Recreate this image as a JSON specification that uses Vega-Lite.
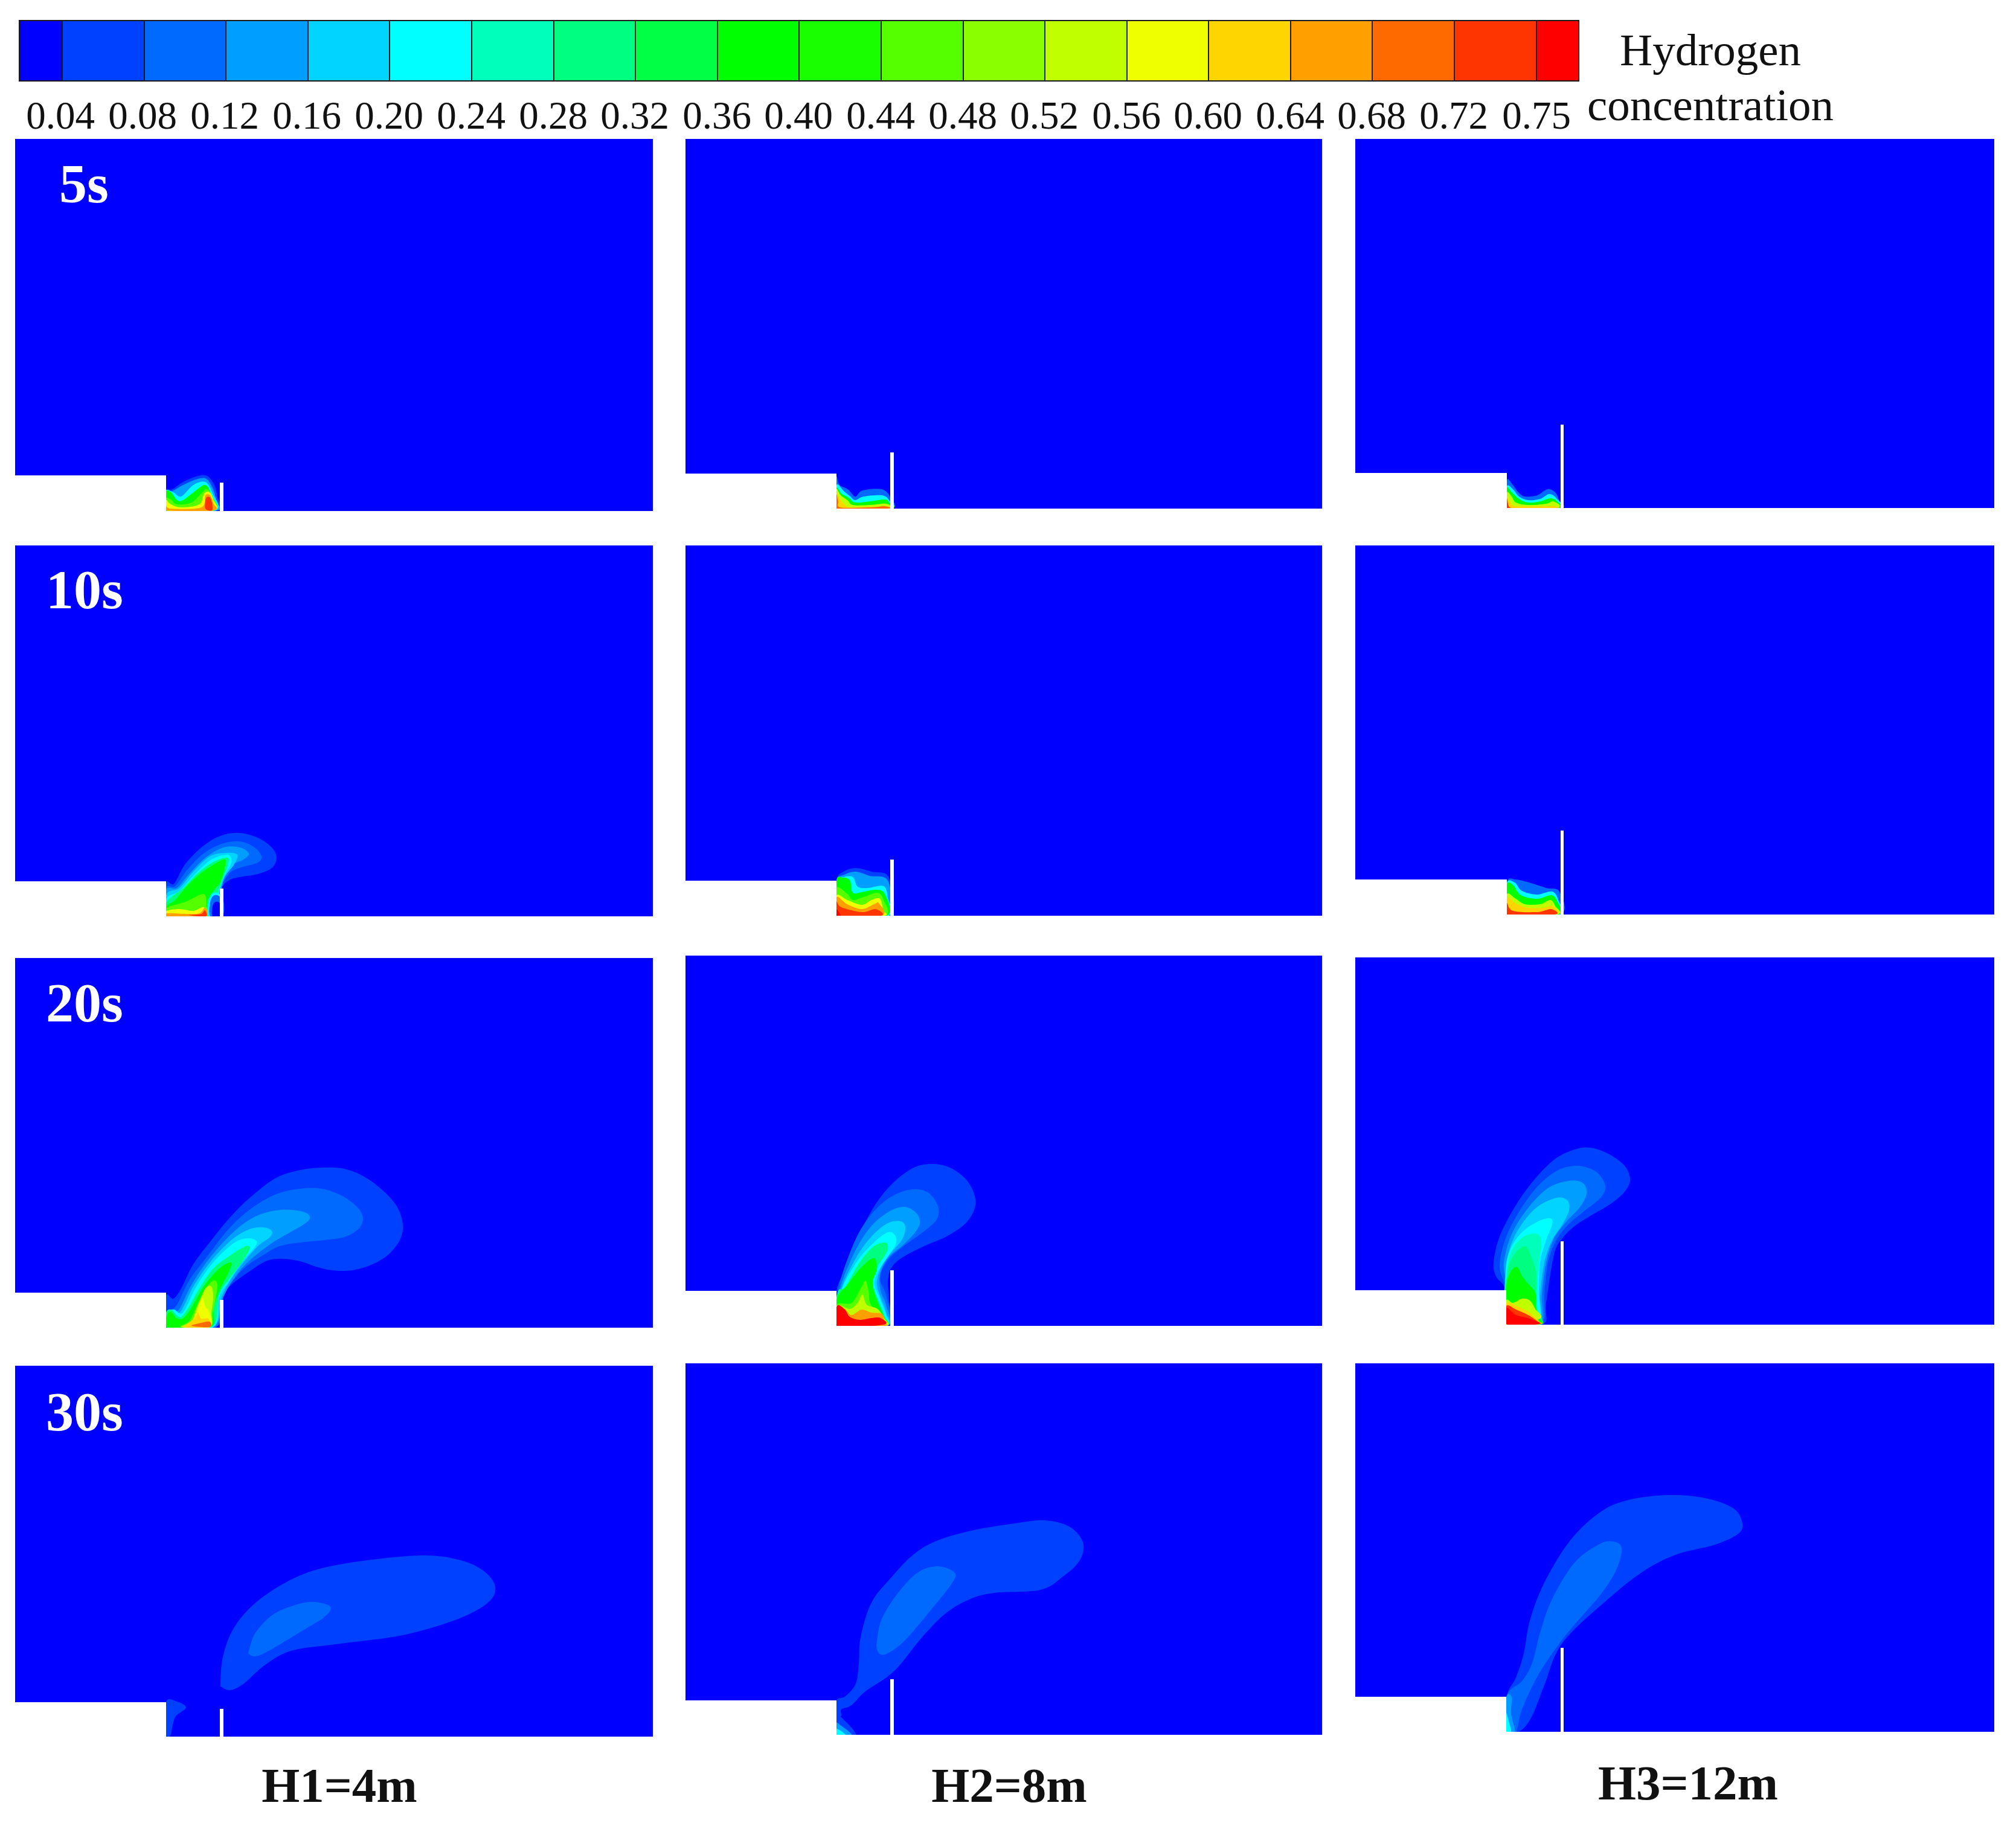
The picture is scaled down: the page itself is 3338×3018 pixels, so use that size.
{
"$schema":"https://vega.github.io/schema/vega-lite/v6.json",
"width":3338,"height":3018,"padding":0,
"autosize":{"type":"fit","contains":"padding"},
"background":"white",
"view":{"stroke":null},
"datasets":{
"panels":[
{"x":25,"x2":1081,"y":230,"y2":846},{"x":1135,"x2":2189,"y":230,"y2":842},{"x":2244,"x2":3302,"y":230,"y2":841},
{"x":25,"x2":1081,"y":903,"y2":1517},{"x":1135,"x2":2189,"y":903,"y2":1516},{"x":2244,"x2":3302,"y":903,"y2":1514},
{"x":25,"x2":1081,"y":1586,"y2":2198},{"x":1135,"x2":2189,"y":1582,"y2":2195},{"x":2244,"x2":3302,"y":1585,"y2":2193},
{"x":25,"x2":1081,"y":2261,"y2":2875},{"x":1135,"x2":2189,"y":2257,"y2":2872},{"x":2244,"x2":3302,"y":2257,"y2":2867}],
"walls":[
{"x":20,"x2":275,"y":787,"y2":846},{"x":1130,"x2":1385,"y":784,"y2":842},{"x":2240,"x2":2495,"y":783,"y2":841},
{"x":20,"x2":275,"y":1459,"y2":1517},{"x":1130,"x2":1385,"y":1458,"y2":1516},{"x":2240,"x2":2495,"y":1456,"y2":1514},
{"x":20,"x2":275,"y":2140,"y2":2198},{"x":1130,"x2":1385,"y":2137,"y2":2195},{"x":2240,"x2":2494,"y":2136,"y2":2193},
{"x":20,"x2":275,"y":2818,"y2":2875},{"x":1130,"x2":1385,"y":2815,"y2":2872},{"x":2240,"x2":2494,"y":2809,"y2":2867},
{"x":364,"x2":370,"y":799,"y2":846},{"x":1474,"x2":1480,"y":749,"y2":842},{"x":2584,"x2":2589,"y":703,"y2":841},
{"x":364,"x2":370,"y":1471,"y2":1517},{"x":1474,"x2":1480,"y":1423,"y2":1516},{"x":2584,"x2":2589,"y":1375,"y2":1514},
{"x":364,"x2":370,"y":2152,"y2":2198},{"x":1474,"x2":1480,"y":2103,"y2":2195},{"x":2584,"x2":2589,"y":2055,"y2":2193},
{"x":364,"x2":370,"y":2829,"y2":2875},{"x":1474,"x2":1480,"y":2780,"y2":2872},{"x":2584,"x2":2589,"y":2728,"y2":2867},
{"x":20,"x2":1081,"y":846,"y2":880},{"x":1130,"x2":2189,"y":842,"y2":880},{"x":2240,"x2":3302,"y":841,"y2":880},
{"x":20,"x2":1081,"y":1517,"y2":1550},{"x":1130,"x2":2189,"y":1516,"y2":1550},{"x":2240,"x2":3302,"y":1514,"y2":1550},
{"x":20,"x2":1081,"y":2198,"y2":2230},{"x":1130,"x2":2189,"y":2195,"y2":2230},{"x":2240,"x2":3302,"y":2193,"y2":2230},
{"x":20,"x2":1081,"y":2875,"y2":2905},{"x":1130,"x2":2189,"y":2872,"y2":2905},{"x":2240,"x2":3302,"y":2867,"y2":2905}],
"colorbar":[
{"c":0,"x":32,"x2":103,"y":34,"y2":134},{"c":0.04,"x":103,"x2":239,"y":34,"y2":134},{"c":0.08,"x":239,"x2":374,"y":34,"y2":134},{"c":0.12,"x":374,"x2":510,"y":34,"y2":134},{"c":0.16,"x":510,"x2":645,"y":34,"y2":134},
{"c":0.2,"x":645,"x2":781,"y":34,"y2":134},{"c":0.24,"x":781,"x2":917,"y":34,"y2":134},{"c":0.28,"x":917,"x2":1052,"y":34,"y2":134},{"c":0.32,"x":1052,"x2":1188,"y":34,"y2":134},{"c":0.36,"x":1188,"x2":1323,"y":34,"y2":134},
{"c":0.4,"x":1323,"x2":1459,"y":34,"y2":134},{"c":0.44,"x":1459,"x2":1595,"y":34,"y2":134},{"c":0.48,"x":1595,"x2":1730,"y":34,"y2":134},{"c":0.52,"x":1730,"x2":1866,"y":34,"y2":134},{"c":0.56,"x":1866,"x2":2001,"y":34,"y2":134},
{"c":0.6,"x":2001,"x2":2137,"y":34,"y2":134},{"c":0.64,"x":2137,"x2":2272,"y":34,"y2":134},{"c":0.68,"x":2272,"x2":2408,"y":34,"y2":134},{"c":0.72,"x":2408,"x2":2544,"y":34,"y2":134},{"c":0.75,"x":2544,"x2":2614,"y":34,"y2":134}],
"ticks":[
{"label":"0.04","x":100,"y":213},{"label":"0.08","x":236,"y":213},{"label":"0.12","x":372,"y":213},{"label":"0.16","x":508,"y":213},{"label":"0.20","x":644,"y":213},{"label":"0.24","x":780,"y":213},{"label":"0.28","x":916,"y":213},{"label":"0.32","x":1051,"y":213},{"label":"0.36","x":1187,"y":213},{"label":"0.40","x":1322,"y":213},{"label":"0.44","x":1458,"y":213},{"label":"0.48","x":1594,"y":213},{"label":"0.52","x":1729,"y":213},{"label":"0.56","x":1865,"y":213},{"label":"0.60","x":2000,"y":213},{"label":"0.64","x":2136,"y":213},{"label":"0.68","x":2271,"y":213},{"label":"0.72","x":2407,"y":213},{"label":"0.75","x":2544,"y":213}],
"titles":[{"label":"Hydrogen","x":2832,"y":108},{"label":"concentration","x":2832,"y":199}],
"times":[{"label":"5s","x":139,"y":335},{"label":"10s","x":140,"y":1007},{"label":"20s","x":140,"y":1691},{"label":"30s","x":140,"y":2368}],
"heights":[{"label":"H1=4m","x":562,"y":2983},{"label":"H2=8m","x":1671,"y":2983},{"label":"H3=12m","x":2795,"y":2979}],
"contours":[
{"id":"r1c1a","c":0.04,"x":274,"y":812},{"id":"r1c1a","c":0.04,"x":285,"y":810},{"id":"r1c1a","c":0.04,"x":303,"y":798},{"id":"r1c1a","c":0.04,"x":327,"y":788},{"id":"r1c1a","c":0.04,"x":343,"y":788},{"id":"r1c1a","c":0.04,"x":355,"y":803},{"id":"r1c1a","c":0.04,"x":360,"y":823},{"id":"r1c1a","c":0.04,"x":362,"y":845},{"id":"r1c1a","c":0.04,"x":274,"y":845},
{"id":"r1c1b","c":0.12,"x":274,"y":813},{"id":"r1c1b","c":0.12,"x":285,"y":813},{"id":"r1c1b","c":0.12,"x":303,"y":803},{"id":"r1c1b","c":0.12,"x":327,"y":793},{"id":"r1c1b","c":0.12,"x":342,"y":793},{"id":"r1c1b","c":0.12,"x":353,"y":810},{"id":"r1c1b","c":0.12,"x":358,"y":830},{"id":"r1c1b","c":0.12,"x":359,"y":845},{"id":"r1c1b","c":0.12,"x":274,"y":845},
{"id":"r1c1c","c":0.2,"x":274,"y":813},{"id":"r1c1c","c":0.2,"x":287,"y":815},{"id":"r1c1c","c":0.2,"x":300,"y":822},{"id":"r1c1c","c":0.2,"x":320,"y":803},{"id":"r1c1c","c":0.2,"x":340,"y":798},{"id":"r1c1c","c":0.2,"x":352,"y":817},{"id":"r1c1c","c":0.2,"x":357,"y":845},{"id":"r1c1c","c":0.2,"x":274,"y":845},
{"id":"r1c1d","c":0.36,"x":274,"y":815},{"id":"r1c1d","c":0.36,"x":283,"y":815},{"id":"r1c1d","c":0.36,"x":293,"y":828},{"id":"r1c1d","c":0.36,"x":303,"y":828},{"id":"r1c1d","c":0.36,"x":323,"y":813},{"id":"r1c1d","c":0.36,"x":340,"y":803},{"id":"r1c1d","c":0.36,"x":350,"y":820},{"id":"r1c1d","c":0.36,"x":355,"y":845},{"id":"r1c1d","c":0.36,"x":274,"y":845},
{"id":"r1c1e","c":0.44,"x":274,"y":825},{"id":"r1c1e","c":0.44,"x":283,"y":827},{"id":"r1c1e","c":0.44,"x":293,"y":835},{"id":"r1c1e","c":0.44,"x":317,"y":832},{"id":"r1c1e","c":0.44,"x":333,"y":817},{"id":"r1c1e","c":0.44,"x":343,"y":810},{"id":"r1c1e","c":0.44,"x":352,"y":823},{"id":"r1c1e","c":0.44,"x":354,"y":845},{"id":"r1c1e","c":0.44,"x":274,"y":845},
{"id":"r1c1f","c":0.56,"x":274,"y":827},{"id":"r1c1f","c":0.56,"x":283,"y":835},{"id":"r1c1f","c":0.56,"x":300,"y":840},{"id":"r1c1f","c":0.56,"x":330,"y":835},{"id":"r1c1f","c":0.56,"x":338,"y":817},{"id":"r1c1f","c":0.56,"x":347,"y":815},{"id":"r1c1f","c":0.56,"x":353,"y":827},{"id":"r1c1f","c":0.56,"x":354,"y":845},{"id":"r1c1f","c":0.56,"x":274,"y":845},
{"id":"r1c1g","c":0.64,"x":274,"y":835},{"id":"r1c1g","c":0.64,"x":283,"y":842},{"id":"r1c1g","c":0.64,"x":333,"y":840},{"id":"r1c1g","c":0.64,"x":340,"y":820},{"id":"r1c1g","c":0.64,"x":348,"y":820},{"id":"r1c1g","c":0.64,"x":353,"y":833},{"id":"r1c1g","c":0.64,"x":353,"y":845},{"id":"r1c1g","c":0.64,"x":274,"y":845},
{"id":"r1c1h","c":0.72,"x":340,"y":842},{"id":"r1c1h","c":0.72,"x":341,"y":825},{"id":"r1c1h","c":0.72,"x":347,"y":823},{"id":"r1c1h","c":0.72,"x":351,"y":833},{"id":"r1c1h","c":0.72,"x":351,"y":845},

{"id":"r1c2a","c":0.08,"x":1385,"y":790},{"id":"r1c2a","c":0.08,"x":1390,"y":803},{"id":"r1c2a","c":0.08,"x":1404,"y":810},{"id":"r1c2a","c":0.08,"x":1416,"y":822},{"id":"r1c2a","c":0.08,"x":1428,"y":812},{"id":"r1c2a","c":0.08,"x":1460,"y":810},{"id":"r1c2a","c":0.08,"x":1474,"y":823},{"id":"r1c2a","c":0.08,"x":1475,"y":842},{"id":"r1c2a","c":0.08,"x":1385,"y":842},
{"id":"r1c2b","c":0.2,"x":1385,"y":803},{"id":"r1c2b","c":0.2,"x":1397,"y":813},{"id":"r1c2b","c":0.2,"x":1408,"y":822},{"id":"r1c2b","c":0.2,"x":1416,"y":828},{"id":"r1c2b","c":0.2,"x":1430,"y":822},{"id":"r1c2b","c":0.2,"x":1460,"y":820},{"id":"r1c2b","c":0.2,"x":1472,"y":828},{"id":"r1c2b","c":0.2,"x":1475,"y":842},{"id":"r1c2b","c":0.2,"x":1385,"y":842},
{"id":"r1c2c","c":0.36,"x":1385,"y":808},{"id":"r1c2c","c":0.36,"x":1393,"y":817},{"id":"r1c2c","c":0.36,"x":1405,"y":824},{"id":"r1c2c","c":0.36,"x":1416,"y":832},{"id":"r1c2c","c":0.36,"x":1440,"y":830},{"id":"r1c2c","c":0.36,"x":1465,"y":827},{"id":"r1c2c","c":0.36,"x":1472,"y":832},{"id":"r1c2c","c":0.36,"x":1475,"y":842},{"id":"r1c2c","c":0.36,"x":1385,"y":842},
{"id":"r1c2d","c":0.52,"x":1385,"y":810},{"id":"r1c2d","c":0.52,"x":1392,"y":820},{"id":"r1c2d","c":0.52,"x":1403,"y":828},{"id":"r1c2d","c":0.52,"x":1412,"y":836},{"id":"r1c2d","c":0.52,"x":1440,"y":836},{"id":"r1c2d","c":0.52,"x":1467,"y":834},{"id":"r1c2d","c":0.52,"x":1473,"y":842},{"id":"r1c2d","c":0.52,"x":1385,"y":842},
{"id":"r1c2e","c":0.6,"x":1385,"y":815},{"id":"r1c2e","c":0.6,"x":1390,"y":825},{"id":"r1c2e","c":0.6,"x":1398,"y":835},{"id":"r1c2e","c":0.6,"x":1408,"y":840},{"id":"r1c2e","c":0.6,"x":1445,"y":839},{"id":"r1c2e","c":0.6,"x":1466,"y":839},{"id":"r1c2e","c":0.6,"x":1468,"y":842},{"id":"r1c2e","c":0.6,"x":1385,"y":842},
{"id":"r1c2f","c":0.68,"x":1385,"y":818},{"id":"r1c2f","c":0.68,"x":1388,"y":830},{"id":"r1c2f","c":0.68,"x":1392,"y":840},{"id":"r1c2f","c":0.68,"x":1440,"y":840},{"id":"r1c2f","c":0.68,"x":1465,"y":838},{"id":"r1c2f","c":0.68,"x":1468,"y":842},{"id":"r1c2f","c":0.68,"x":1385,"y":842},

{"id":"r1c3a","c":0.08,"x":2495,"y":795},{"id":"r1c3a","c":0.08,"x":2505,"y":803},{"id":"r1c3a","c":0.08,"x":2514,"y":815},{"id":"r1c3a","c":0.08,"x":2525,"y":822},{"id":"r1c3a","c":0.08,"x":2545,"y":820},{"id":"r1c3a","c":0.08,"x":2562,"y":810},{"id":"r1c3a","c":0.08,"x":2575,"y":815},{"id":"r1c3a","c":0.08,"x":2582,"y":830},{"id":"r1c3a","c":0.08,"x":2584,"y":841},{"id":"r1c3a","c":0.08,"x":2495,"y":841},
{"id":"r1c3b","c":0.2,"x":2495,"y":805},{"id":"r1c3b","c":0.2,"x":2505,"y":810},{"id":"r1c3b","c":0.2,"x":2515,"y":822},{"id":"r1c3b","c":0.2,"x":2530,"y":828},{"id":"r1c3b","c":0.2,"x":2550,"y":826},{"id":"r1c3b","c":0.2,"x":2565,"y":818},{"id":"r1c3b","c":0.2,"x":2577,"y":825},{"id":"r1c3b","c":0.2,"x":2582,"y":841},{"id":"r1c3b","c":0.2,"x":2495,"y":841},
{"id":"r1c3c","c":0.36,"x":2495,"y":808},{"id":"r1c3c","c":0.36,"x":2503,"y":815},{"id":"r1c3c","c":0.36,"x":2515,"y":826},{"id":"r1c3c","c":0.36,"x":2530,"y":832},{"id":"r1c3c","c":0.36,"x":2550,"y":830},{"id":"r1c3c","c":0.36,"x":2567,"y":825},{"id":"r1c3c","c":0.36,"x":2578,"y":830},{"id":"r1c3c","c":0.36,"x":2581,"y":841},{"id":"r1c3c","c":0.36,"x":2495,"y":841},
{"id":"r1c3d","c":0.52,"x":2495,"y":815},{"id":"r1c3d","c":0.52,"x":2503,"y":822},{"id":"r1c3d","c":0.52,"x":2510,"y":832},{"id":"r1c3d","c":0.52,"x":2530,"y":836},{"id":"r1c3d","c":0.52,"x":2560,"y":834},{"id":"r1c3d","c":0.52,"x":2572,"y":830},{"id":"r1c3d","c":0.52,"x":2578,"y":840},{"id":"r1c3d","c":0.52,"x":2495,"y":841},
{"id":"r1c3e","c":0.6,"x":2495,"y":822},{"id":"r1c3e","c":0.6,"x":2500,"y":830},{"id":"r1c3e","c":0.6,"x":2510,"y":838},{"id":"r1c3e","c":0.6,"x":2560,"y":838},{"id":"r1c3e","c":0.6,"x":2575,"y":838},{"id":"r1c3e","c":0.6,"x":2577,"y":841},{"id":"r1c3e","c":0.6,"x":2495,"y":841},
{"id":"r1c3f","c":0.72,"x":2495,"y":825},{"id":"r1c3f","c":0.72,"x":2498,"y":838},{"id":"r1c3f","c":0.72,"x":2502,"y":841},{"id":"r1c3f","c":0.72,"x":2495,"y":841},

{"id":"r2c1a","c":0.04,"x":275,"y":1462},{"id":"r2c1a","c":0.04,"x":288,"y":1463},{"id":"r2c1a","c":0.04,"x":307,"y":1430},{"id":"r2c1a","c":0.04,"x":337,"y":1400},{"id":"r2c1a","c":0.04,"x":367,"y":1383},{"id":"r2c1a","c":0.04,"x":397,"y":1379},{"id":"r2c1a","c":0.04,"x":427,"y":1387},{"id":"r2c1a","c":0.04,"x":450,"y":1403},{"id":"r2c1a","c":0.04,"x":458,"y":1420},{"id":"r2c1a","c":0.04,"x":450,"y":1437},{"id":"r2c1a","c":0.04,"x":427,"y":1447},{"id":"r2c1a","c":0.04,"x":397,"y":1452},{"id":"r2c1a","c":0.04,"x":380,"y":1457},{"id":"r2c1a","c":0.04,"x":367,"y":1472},{"id":"r2c1a","c":0.04,"x":365,"y":1517},{"id":"r2c1a","c":0.04,"x":275,"y":1517},
{"id":"r2c1b","c":0.08,"x":275,"y":1470},{"id":"r2c1b","c":0.08,"x":290,"y":1467},{"id":"r2c1b","c":0.08,"x":310,"y":1440},{"id":"r2c1b","c":0.08,"x":337,"y":1413},{"id":"r2c1b","c":0.08,"x":367,"y":1397},{"id":"r2c1b","c":0.08,"x":397,"y":1393},{"id":"r2c1b","c":0.08,"x":420,"y":1402},{"id":"r2c1b","c":0.08,"x":433,"y":1417},{"id":"r2c1b","c":0.08,"x":427,"y":1428},{"id":"r2c1b","c":0.08,"x":403,"y":1435},{"id":"r2c1b","c":0.08,"x":383,"y":1443},{"id":"r2c1b","c":0.08,"x":368,"y":1463},{"id":"r2c1b","c":0.08,"x":365,"y":1470},{"id":"r2c1b","c":0.08,"x":347,"y":1517},{"id":"r2c1b","c":0.08,"x":275,"y":1517},
{"id":"r2c1c","c":0.12,"x":275,"y":1473},{"id":"r2c1c","c":0.12,"x":293,"y":1470},{"id":"r2c1c","c":0.12,"x":313,"y":1447},{"id":"r2c1c","c":0.12,"x":340,"y":1420},{"id":"r2c1c","c":0.12,"x":370,"y":1403},{"id":"r2c1c","c":0.12,"x":397,"y":1403},{"id":"r2c1c","c":0.12,"x":412,"y":1413},{"id":"r2c1c","c":0.12,"x":403,"y":1423},{"id":"r2c1c","c":0.12,"x":383,"y":1433},{"id":"r2c1c","c":0.12,"x":370,"y":1457},{"id":"r2c1c","c":0.12,"x":367,"y":1470},{"id":"r2c1c","c":0.12,"x":347,"y":1517},{"id":"r2c1c","c":0.12,"x":275,"y":1517},
{"id":"r2c1d","c":0.16,"x":276,"y":1480},{"id":"r2c1d","c":0.16,"x":297,"y":1470},{"id":"r2c1d","c":0.16,"x":320,"y":1443},{"id":"r2c1d","c":0.16,"x":347,"y":1418},{"id":"r2c1d","c":0.16,"x":373,"y":1412},{"id":"r2c1d","c":0.16,"x":393,"y":1415},{"id":"r2c1d","c":0.16,"x":387,"y":1432},{"id":"r2c1d","c":0.16,"x":373,"y":1450},{"id":"r2c1d","c":0.16,"x":365,"y":1470},{"id":"r2c1d","c":0.16,"x":347,"y":1517},{"id":"r2c1d","c":0.16,"x":275,"y":1517},
{"id":"r2c1e","c":0.2,"x":276,"y":1487},{"id":"r2c1e","c":0.2,"x":297,"y":1475},{"id":"r2c1e","c":0.2,"x":323,"y":1447},{"id":"r2c1e","c":0.2,"x":350,"y":1423},{"id":"r2c1e","c":0.2,"x":377,"y":1415},{"id":"r2c1e","c":0.2,"x":383,"y":1427},{"id":"r2c1e","c":0.2,"x":373,"y":1447},{"id":"r2c1e","c":0.2,"x":365,"y":1467},{"id":"r2c1e","c":0.2,"x":346,"y":1517},{"id":"r2c1e","c":0.2,"x":275,"y":1517},
{"id":"r2c1f","c":0.28,"x":276,"y":1493},{"id":"r2c1f","c":0.28,"x":303,"y":1470},{"id":"r2c1f","c":0.28,"x":330,"y":1443},{"id":"r2c1f","c":0.28,"x":357,"y":1425},{"id":"r2c1f","c":0.28,"x":377,"y":1420},{"id":"r2c1f","c":0.28,"x":377,"y":1433},{"id":"r2c1f","c":0.28,"x":368,"y":1457},{"id":"r2c1f","c":0.28,"x":362,"y":1473},{"id":"r2c1f","c":0.28,"x":345,"y":1517},{"id":"r2c1f","c":0.28,"x":275,"y":1517},
{"id":"r2c1g","c":0.36,"x":276,"y":1500},{"id":"r2c1g","c":0.36,"x":290,"y":1490},{"id":"r2c1g","c":0.36,"x":313,"y":1463},{"id":"r2c1g","c":0.36,"x":340,"y":1440},{"id":"r2c1g","c":0.36,"x":370,"y":1423},{"id":"r2c1g","c":0.36,"x":373,"y":1432},{"id":"r2c1g","c":0.36,"x":365,"y":1460},{"id":"r2c1g","c":0.36,"x":355,"y":1473},{"id":"r2c1g","c":0.36,"x":343,"y":1493},{"id":"r2c1g","c":0.36,"x":342,"y":1517},{"id":"r2c1g","c":0.36,"x":275,"y":1517},
{"id":"r2c1h","c":0.44,"x":276,"y":1503},{"id":"r2c1h","c":0.44,"x":307,"y":1493},{"id":"r2c1h","c":0.44,"x":337,"y":1480},{"id":"r2c1h","c":0.44,"x":342,"y":1500},{"id":"r2c1h","c":0.44,"x":342,"y":1517},{"id":"r2c1h","c":0.44,"x":275,"y":1517},
{"id":"r2c1i","c":0.56,"x":276,"y":1508},{"id":"r2c1i","c":0.56,"x":297,"y":1505},{"id":"r2c1i","c":0.56,"x":320,"y":1508},{"id":"r2c1i","c":0.56,"x":337,"y":1502},{"id":"r2c1i","c":0.56,"x":341,"y":1517},{"id":"r2c1i","c":0.56,"x":275,"y":1517},
{"id":"r2c1j","c":0.64,"x":276,"y":1512},{"id":"r2c1j","c":0.64,"x":307,"y":1513},{"id":"r2c1j","c":0.64,"x":330,"y":1512},{"id":"r2c1j","c":0.64,"x":339,"y":1503},{"id":"r2c1j","c":0.64,"x":341,"y":1517},{"id":"r2c1j","c":0.64,"x":275,"y":1517},
{"id":"r2c1k","c":0.72,"x":313,"y":1515},{"id":"r2c1k","c":0.72,"x":333,"y":1513},{"id":"r2c1k","c":0.72,"x":339,"y":1507},{"id":"r2c1k","c":0.72,"x":341,"y":1517},
{"id":"r2c1p","c":0.2,"x":345,"y":1517},{"id":"r2c1p","c":0.2,"x":345,"y":1493},{"id":"r2c1p","c":0.2,"x":353,"y":1478},{"id":"r2c1p","c":0.2,"x":367,"y":1485},{"id":"r2c1p","c":0.2,"x":367,"y":1517},
{"id":"r2c1q","c":0.08,"x":348,"y":1517},{"id":"r2c1q","c":0.08,"x":348,"y":1493},{"id":"r2c1q","c":0.08,"x":355,"y":1482},{"id":"r2c1q","c":0.08,"x":366,"y":1488},{"id":"r2c1q","c":0.08,"x":366,"y":1517},
{"id":"r2c1r","c":0,"x":352,"y":1517},{"id":"r2c1r","c":0,"x":352,"y":1500},{"id":"r2c1r","c":0,"x":357,"y":1493},{"id":"r2c1r","c":0,"x":365,"y":1497},{"id":"r2c1r","c":0,"x":365,"y":1517},

{"id":"r2c2a","c":0.04,"x":1385,"y":1458},{"id":"r2c2a","c":0.04,"x":1397,"y":1443},{"id":"r2c2a","c":0.04,"x":1417,"y":1437},{"id":"r2c2a","c":0.04,"x":1443,"y":1443},{"id":"r2c2a","c":0.04,"x":1472,"y":1453},{"id":"r2c2a","c":0.04,"x":1473,"y":1516},{"id":"r2c2a","c":0.04,"x":1385,"y":1516},
{"id":"r2c2b","c":0.12,"x":1385,"y":1459},{"id":"r2c2b","c":0.12,"x":1398,"y":1448},{"id":"r2c2b","c":0.12,"x":1417,"y":1443},{"id":"r2c2b","c":0.12,"x":1440,"y":1450},{"id":"r2c2b","c":0.12,"x":1470,"y":1458},{"id":"r2c2b","c":0.12,"x":1472,"y":1516},{"id":"r2c2b","c":0.12,"x":1385,"y":1516},
{"id":"r2c2c","c":0.2,"x":1385,"y":1460},{"id":"r2c2c","c":0.2,"x":1397,"y":1452},{"id":"r2c2c","c":0.2,"x":1412,"y":1452},{"id":"r2c2c","c":0.2,"x":1420,"y":1468},{"id":"r2c2c","c":0.2,"x":1437,"y":1470},{"id":"r2c2c","c":0.2,"x":1463,"y":1467},{"id":"r2c2c","c":0.2,"x":1470,"y":1487},{"id":"r2c2c","c":0.2,"x":1472,"y":1516},{"id":"r2c2c","c":0.2,"x":1385,"y":1516},
{"id":"r2c2d","c":0.36,"x":1385,"y":1458},{"id":"r2c2d","c":0.36,"x":1395,"y":1453},{"id":"r2c2d","c":0.36,"x":1407,"y":1457},{"id":"r2c2d","c":0.36,"x":1412,"y":1478},{"id":"r2c2d","c":0.36,"x":1427,"y":1477},{"id":"r2c2d","c":0.36,"x":1450,"y":1473},{"id":"r2c2d","c":0.36,"x":1465,"y":1480},{"id":"r2c2d","c":0.36,"x":1468,"y":1516},{"id":"r2c2d","c":0.36,"x":1385,"y":1516},
{"id":"r2c2e","c":0.44,"x":1385,"y":1470},{"id":"r2c2e","c":0.44,"x":1403,"y":1480},{"id":"r2c2e","c":0.44,"x":1412,"y":1490},{"id":"r2c2e","c":0.44,"x":1430,"y":1485},{"id":"r2c2e","c":0.44,"x":1453,"y":1478},{"id":"r2c2e","c":0.44,"x":1463,"y":1490},{"id":"r2c2e","c":0.44,"x":1465,"y":1516},{"id":"r2c2e","c":0.44,"x":1385,"y":1516},
{"id":"r2c2f","c":0.56,"x":1385,"y":1482},{"id":"r2c2f","c":0.56,"x":1403,"y":1490},{"id":"r2c2f","c":0.56,"x":1427,"y":1498},{"id":"r2c2f","c":0.56,"x":1443,"y":1490},{"id":"r2c2f","c":0.56,"x":1457,"y":1488},{"id":"r2c2f","c":0.56,"x":1462,"y":1507},{"id":"r2c2f","c":0.56,"x":1463,"y":1516},{"id":"r2c2f","c":0.56,"x":1385,"y":1516},
{"id":"r2c2g","c":0.64,"x":1385,"y":1485},{"id":"r2c2g","c":0.64,"x":1403,"y":1497},{"id":"r2c2g","c":0.64,"x":1427,"y":1505},{"id":"r2c2g","c":0.64,"x":1447,"y":1497},{"id":"r2c2g","c":0.64,"x":1455,"y":1495},{"id":"r2c2g","c":0.64,"x":1460,"y":1516},{"id":"r2c2g","c":0.64,"x":1385,"y":1516},
{"id":"r2c2h","c":0.72,"x":1385,"y":1493},{"id":"r2c2h","c":0.72,"x":1393,"y":1502},{"id":"r2c2h","c":0.72,"x":1427,"y":1510},{"id":"r2c2h","c":0.72,"x":1450,"y":1505},{"id":"r2c2h","c":0.72,"x":1458,"y":1516},{"id":"r2c2h","c":0.72,"x":1385,"y":1516},
{"id":"r2c2i","c":0.75,"x":1385,"y":1505},{"id":"r2c2i","c":0.75,"x":1392,"y":1516},{"id":"r2c2i","c":0.75,"x":1385,"y":1516},

{"id":"r2c3a","c":0.08,"x":2495,"y":1460},{"id":"r2c3a","c":0.08,"x":2510,"y":1456},{"id":"r2c3a","c":0.08,"x":2535,"y":1462},{"id":"r2c3a","c":0.08,"x":2560,"y":1470},{"id":"r2c3a","c":0.08,"x":2582,"y":1476},{"id":"r2c3a","c":0.08,"x":2584,"y":1514},{"id":"r2c3a","c":0.08,"x":2495,"y":1514},
{"id":"r2c3b","c":0.2,"x":2495,"y":1462},{"id":"r2c3b","c":0.2,"x":2508,"y":1461},{"id":"r2c3b","c":0.2,"x":2520,"y":1475},{"id":"r2c3b","c":0.2,"x":2545,"y":1481},{"id":"r2c3b","c":0.2,"x":2570,"y":1476},{"id":"r2c3b","c":0.2,"x":2580,"y":1490},{"id":"r2c3b","c":0.2,"x":2582,"y":1514},{"id":"r2c3b","c":0.2,"x":2495,"y":1514},
{"id":"r2c3c","c":0.36,"x":2495,"y":1465},{"id":"r2c3c","c":0.36,"x":2505,"y":1465},{"id":"r2c3c","c":0.36,"x":2518,"y":1482},{"id":"r2c3c","c":0.36,"x":2545,"y":1488},{"id":"r2c3c","c":0.36,"x":2568,"y":1482},{"id":"r2c3c","c":0.36,"x":2578,"y":1492},{"id":"r2c3c","c":0.36,"x":2580,"y":1514},{"id":"r2c3c","c":0.36,"x":2495,"y":1514},
{"id":"r2c3d","c":0.52,"x":2495,"y":1480},{"id":"r2c3d","c":0.52,"x":2510,"y":1488},{"id":"r2c3d","c":0.52,"x":2525,"y":1497},{"id":"r2c3d","c":0.52,"x":2550,"y":1497},{"id":"r2c3d","c":0.52,"x":2567,"y":1490},{"id":"r2c3d","c":0.52,"x":2575,"y":1500},{"id":"r2c3d","c":0.52,"x":2578,"y":1514},{"id":"r2c3d","c":0.52,"x":2495,"y":1514},
{"id":"r2c3e","c":0.6,"x":2495,"y":1486},{"id":"r2c3e","c":0.6,"x":2510,"y":1496},{"id":"r2c3e","c":0.6,"x":2530,"y":1503},{"id":"r2c3e","c":0.6,"x":2555,"y":1503},{"id":"r2c3e","c":0.6,"x":2570,"y":1500},{"id":"r2c3e","c":0.6,"x":2575,"y":1514},{"id":"r2c3e","c":0.6,"x":2495,"y":1514},
{"id":"r2c3f","c":0.72,"x":2495,"y":1495},{"id":"r2c3f","c":0.72,"x":2505,"y":1508},{"id":"r2c3f","c":0.72,"x":2545,"y":1510},{"id":"r2c3f","c":0.72,"x":2568,"y":1505},{"id":"r2c3f","c":0.72,"x":2574,"y":1514},{"id":"r2c3f","c":0.72,"x":2495,"y":1514},

{"id":"r3c1a","c":0.04,"x":275,"y":2145},{"id":"r3c1a","c":0.04,"x":287,"y":2150},{"id":"r3c1a","c":0.04,"x":300,"y":2133},{"id":"r3c1a","c":0.04,"x":320,"y":2093},{"id":"r3c1a","c":0.04,"x":350,"y":2053},{"id":"r3c1a","c":0.04,"x":383,"y":2013},{"id":"r3c1a","c":0.04,"x":417,"y":1980},{"id":"r3c1a","c":0.04,"x":457,"y":1950},{"id":"r3c1a","c":0.04,"x":497,"y":1937},{"id":"r3c1a","c":0.04,"x":533,"y":1933},{"id":"r3c1a","c":0.04,"x":570,"y":1935},{"id":"r3c1a","c":0.04,"x":603,"y":1948},{"id":"r3c1a","c":0.04,"x":633,"y":1970},{"id":"r3c1a","c":0.04,"x":657,"y":1997},{"id":"r3c1a","c":0.04,"x":667,"y":2027},{"id":"r3c1a","c":0.04,"x":662,"y":2053},{"id":"r3c1a","c":0.04,"x":643,"y":2077},{"id":"r3c1a","c":0.04,"x":617,"y":2093},{"id":"r3c1a","c":0.04,"x":583,"y":2103},{"id":"r3c1a","c":0.04,"x":550,"y":2103},{"id":"r3c1a","c":0.04,"x":523,"y":2097},{"id":"r3c1a","c":0.04,"x":497,"y":2088},{"id":"r3c1a","c":0.04,"x":467,"y":2084},{"id":"r3c1a","c":0.04,"x":440,"y":2088},{"id":"r3c1a","c":0.04,"x":410,"y":2107},{"id":"r3c1a","c":0.04,"x":383,"y":2127},{"id":"r3c1a","c":0.04,"x":365,"y":2150},{"id":"r3c1a","c":0.04,"x":357,"y":2197},{"id":"r3c1a","c":0.04,"x":275,"y":2197},
{"id":"r3c1b","c":0.08,"x":280,"y":2173},{"id":"r3c1b","c":0.08,"x":293,"y":2160},{"id":"r3c1b","c":0.08,"x":313,"y":2120},{"id":"r3c1b","c":0.08,"x":343,"y":2080},{"id":"r3c1b","c":0.08,"x":380,"y":2033},{"id":"r3c1b","c":0.08,"x":417,"y":2000},{"id":"r3c1b","c":0.08,"x":457,"y":1977},{"id":"r3c1b","c":0.08,"x":497,"y":1968},{"id":"r3c1b","c":0.08,"x":533,"y":1968},{"id":"r3c1b","c":0.08,"x":567,"y":1980},{"id":"r3c1b","c":0.08,"x":593,"y":2000},{"id":"r3c1b","c":0.08,"x":601,"y":2018},{"id":"r3c1b","c":0.08,"x":593,"y":2035},{"id":"r3c1b","c":0.08,"x":570,"y":2048},{"id":"r3c1b","c":0.08,"x":537,"y":2053},{"id":"r3c1b","c":0.08,"x":497,"y":2057},{"id":"r3c1b","c":0.08,"x":463,"y":2063},{"id":"r3c1b","c":0.08,"x":437,"y":2077},{"id":"r3c1b","c":0.08,"x":407,"y":2097},{"id":"r3c1b","c":0.08,"x":383,"y":2123},{"id":"r3c1b","c":0.08,"x":367,"y":2150},{"id":"r3c1b","c":0.08,"x":358,"y":2197},{"id":"r3c1b","c":0.08,"x":280,"y":2197},
{"id":"r3c1c","c":0.12,"x":283,"y":2177},{"id":"r3c1c","c":0.12,"x":297,"y":2167},{"id":"r3c1c","c":0.12,"x":317,"y":2127},{"id":"r3c1c","c":0.12,"x":347,"y":2083},{"id":"r3c1c","c":0.12,"x":383,"y":2043},{"id":"r3c1c","c":0.12,"x":417,"y":2017},{"id":"r3c1c","c":0.12,"x":450,"y":2005},{"id":"r3c1c","c":0.12,"x":483,"y":2003},{"id":"r3c1c","c":0.12,"x":507,"y":2008},{"id":"r3c1c","c":0.12,"x":513,"y":2017},{"id":"r3c1c","c":0.12,"x":503,"y":2027},{"id":"r3c1c","c":0.12,"x":477,"y":2042},{"id":"r3c1c","c":0.12,"x":447,"y":2060},{"id":"r3c1c","c":0.12,"x":413,"y":2087},{"id":"r3c1c","c":0.12,"x":390,"y":2113},{"id":"r3c1c","c":0.12,"x":370,"y":2147},{"id":"r3c1c","c":0.12,"x":354,"y":2197},{"id":"r3c1c","c":0.12,"x":283,"y":2197},
{"id":"r3c1d","c":0.16,"x":285,"y":2178},{"id":"r3c1d","c":0.16,"x":300,"y":2170},{"id":"r3c1d","c":0.16,"x":320,"y":2130},{"id":"r3c1d","c":0.16,"x":350,"y":2087},{"id":"r3c1d","c":0.16,"x":383,"y":2053},{"id":"r3c1d","c":0.16,"x":413,"y":2035},{"id":"r3c1d","c":0.16,"x":437,"y":2032},{"id":"r3c1d","c":0.16,"x":450,"y":2038},{"id":"r3c1d","c":0.16,"x":447,"y":2048},{"id":"r3c1d","c":0.16,"x":427,"y":2063},{"id":"r3c1d","c":0.16,"x":403,"y":2090},{"id":"r3c1d","c":0.16,"x":383,"y":2117},{"id":"r3c1d","c":0.16,"x":367,"y":2147},{"id":"r3c1d","c":0.16,"x":353,"y":2197},{"id":"r3c1d","c":0.16,"x":283,"y":2197},
{"id":"r3c1e","c":0.2,"x":277,"y":2173},{"id":"r3c1e","c":0.2,"x":288,"y":2168},{"id":"r3c1e","c":0.2,"x":303,"y":2173},{"id":"r3c1e","c":0.2,"x":325,"y":2130},{"id":"r3c1e","c":0.2,"x":353,"y":2090},{"id":"r3c1e","c":0.2,"x":387,"y":2058},{"id":"r3c1e","c":0.2,"x":410,"y":2050},{"id":"r3c1e","c":0.2,"x":425,"y":2055},{"id":"r3c1e","c":0.2,"x":420,"y":2067},{"id":"r3c1e","c":0.2,"x":400,"y":2090},{"id":"r3c1e","c":0.2,"x":380,"y":2120},{"id":"r3c1e","c":0.2,"x":363,"y":2147},{"id":"r3c1e","c":0.2,"x":352,"y":2197},{"id":"r3c1e","c":0.2,"x":275,"y":2197},
{"id":"r3c1f","c":0.28,"x":275,"y":2173},{"id":"r3c1f","c":0.28,"x":283,"y":2168},{"id":"r3c1f","c":0.28,"x":292,"y":2177},{"id":"r3c1f","c":0.28,"x":300,"y":2180},{"id":"r3c1f","c":0.28,"x":313,"y":2163},{"id":"r3c1f","c":0.28,"x":330,"y":2133},{"id":"r3c1f","c":0.28,"x":353,"y":2100},{"id":"r3c1f","c":0.28,"x":383,"y":2077},{"id":"r3c1f","c":0.28,"x":407,"y":2063},{"id":"r3c1f","c":0.28,"x":413,"y":2068},{"id":"r3c1f","c":0.28,"x":400,"y":2090},{"id":"r3c1f","c":0.28,"x":380,"y":2117},{"id":"r3c1f","c":0.28,"x":363,"y":2143},{"id":"r3c1f","c":0.28,"x":350,"y":2197},{"id":"r3c1f","c":0.28,"x":275,"y":2197},
{"id":"r3c1g","c":0.36,"x":277,"y":2177},{"id":"r3c1g","c":0.36,"x":283,"y":2172},{"id":"r3c1g","c":0.36,"x":292,"y":2182},{"id":"r3c1g","c":0.36,"x":302,"y":2183},{"id":"r3c1g","c":0.36,"x":315,"y":2168},{"id":"r3c1g","c":0.36,"x":337,"y":2130},{"id":"r3c1g","c":0.36,"x":363,"y":2100},{"id":"r3c1g","c":0.36,"x":383,"y":2090},{"id":"r3c1g","c":0.36,"x":378,"y":2107},{"id":"r3c1g","c":0.36,"x":363,"y":2137},{"id":"r3c1g","c":0.36,"x":353,"y":2167},{"id":"r3c1g","c":0.36,"x":348,"y":2197},{"id":"r3c1g","c":0.36,"x":276,"y":2197},
{"id":"r3c1h","c":0.44,"x":313,"y":2187},{"id":"r3c1h","c":0.44,"x":322,"y":2170},{"id":"r3c1h","c":0.44,"x":338,"y":2137},{"id":"r3c1h","c":0.44,"x":353,"y":2120},{"id":"r3c1h","c":0.44,"x":360,"y":2127},{"id":"r3c1h","c":0.44,"x":357,"y":2150},{"id":"r3c1h","c":0.44,"x":352,"y":2173},{"id":"r3c1h","c":0.44,"x":347,"y":2197},{"id":"r3c1h","c":0.44,"x":300,"y":2197},
{"id":"r3c1i","c":0.52,"x":317,"y":2187},{"id":"r3c1i","c":0.52,"x":328,"y":2160},{"id":"r3c1i","c":0.52,"x":340,"y":2133},{"id":"r3c1i","c":0.52,"x":350,"y":2130},{"id":"r3c1i","c":0.52,"x":353,"y":2147},{"id":"r3c1i","c":0.52,"x":350,"y":2173},{"id":"r3c1i","c":0.52,"x":347,"y":2197},{"id":"r3c1i","c":0.52,"x":300,"y":2197},
{"id":"r3c1j","c":0.56,"x":318,"y":2190},{"id":"r3c1j","c":0.56,"x":330,"y":2160},{"id":"r3c1j","c":0.56,"x":335,"y":2148},{"id":"r3c1j","c":0.56,"x":340,"y":2163},{"id":"r3c1j","c":0.56,"x":347,"y":2173},{"id":"r3c1j","c":0.56,"x":347,"y":2197},{"id":"r3c1j","c":0.56,"x":307,"y":2197},
{"id":"r3c1k","c":0.6,"x":322,"y":2183},{"id":"r3c1k","c":0.6,"x":328,"y":2173},{"id":"r3c1k","c":0.6,"x":333,"y":2183},{"id":"r3c1k","c":0.6,"x":345,"y":2183},{"id":"r3c1k","c":0.6,"x":347,"y":2197},{"id":"r3c1k","c":0.6,"x":307,"y":2197},
{"id":"r3c1l","c":0.68,"x":317,"y":2195},{"id":"r3c1l","c":0.68,"x":333,"y":2190},{"id":"r3c1l","c":0.68,"x":347,"y":2188},{"id":"r3c1l","c":0.68,"x":347,"y":2197},

{"id":"r3c2a","c":0.04,"x":1385,"y":2137},{"id":"r3c2a","c":0.04,"x":1400,"y":2100},{"id":"r3c2a","c":0.04,"x":1423,"y":2043},{"id":"r3c2a","c":0.04,"x":1450,"y":1993},{"id":"r3c2a","c":0.04,"x":1480,"y":1957},{"id":"r3c2a","c":0.04,"x":1513,"y":1933},{"id":"r3c2a","c":0.04,"x":1543,"y":1927},{"id":"r3c2a","c":0.04,"x":1573,"y":1933},{"id":"r3c2a","c":0.04,"x":1600,"y":1953},{"id":"r3c2a","c":0.04,"x":1614,"y":1980},{"id":"r3c2a","c":0.04,"x":1613,"y":2003},{"id":"r3c2a","c":0.04,"x":1597,"y":2027},{"id":"r3c2a","c":0.04,"x":1567,"y":2047},{"id":"r3c2a","c":0.04,"x":1530,"y":2063},{"id":"r3c2a","c":0.04,"x":1497,"y":2080},{"id":"r3c2a","c":0.04,"x":1477,"y":2097},{"id":"r3c2a","c":0.04,"x":1470,"y":2120},{"id":"r3c2a","c":0.04,"x":1472,"y":2153},{"id":"r3c2a","c":0.04,"x":1472,"y":2195},{"id":"r3c2a","c":0.04,"x":1385,"y":2195},
{"id":"r3c2b","c":0.08,"x":1387,"y":2137},{"id":"r3c2b","c":0.08,"x":1410,"y":2067},{"id":"r3c2b","c":0.08,"x":1433,"y":2023},{"id":"r3c2b","c":0.08,"x":1463,"y":1990},{"id":"r3c2b","c":0.08,"x":1493,"y":1973},{"id":"r3c2b","c":0.08,"x":1520,"y":1969},{"id":"r3c2b","c":0.08,"x":1540,"y":1977},{"id":"r3c2b","c":0.08,"x":1553,"y":1997},{"id":"r3c2b","c":0.08,"x":1552,"y":2017},{"id":"r3c2b","c":0.08,"x":1537,"y":2033},{"id":"r3c2b","c":0.08,"x":1510,"y":2053},{"id":"r3c2b","c":0.08,"x":1487,"y":2070},{"id":"r3c2b","c":0.08,"x":1467,"y":2090},{"id":"r3c2b","c":0.08,"x":1457,"y":2117},{"id":"r3c2b","c":0.08,"x":1468,"y":2147},{"id":"r3c2b","c":0.08,"x":1470,"y":2195},{"id":"r3c2b","c":0.08,"x":1385,"y":2195},
{"id":"r3c2c","c":0.12,"x":1390,"y":2137},{"id":"r3c2c","c":0.12,"x":1413,"y":2077},{"id":"r3c2c","c":0.12,"x":1440,"y":2033},{"id":"r3c2c","c":0.12,"x":1470,"y":2007},{"id":"r3c2c","c":0.12,"x":1497,"y":1998},{"id":"r3c2c","c":0.12,"x":1517,"y":2008},{"id":"r3c2c","c":0.12,"x":1523,"y":2025},{"id":"r3c2c","c":0.12,"x":1513,"y":2043},{"id":"r3c2c","c":0.12,"x":1493,"y":2063},{"id":"r3c2c","c":0.12,"x":1470,"y":2083},{"id":"r3c2c","c":0.12,"x":1457,"y":2110},{"id":"r3c2c","c":0.12,"x":1458,"y":2137},{"id":"r3c2c","c":0.12,"x":1467,"y":2160},{"id":"r3c2c","c":0.12,"x":1468,"y":2195},{"id":"r3c2c","c":0.12,"x":1385,"y":2195},
{"id":"r3c2d","c":0.16,"x":1392,"y":2137},{"id":"r3c2d","c":0.16,"x":1417,"y":2083},{"id":"r3c2d","c":0.16,"x":1443,"y":2047},{"id":"r3c2d","c":0.16,"x":1470,"y":2025},{"id":"r3c2d","c":0.16,"x":1492,"y":2022},{"id":"r3c2d","c":0.16,"x":1499,"y":2033},{"id":"r3c2d","c":0.16,"x":1493,"y":2053},{"id":"r3c2d","c":0.16,"x":1473,"y":2077},{"id":"r3c2d","c":0.16,"x":1458,"y":2100},{"id":"r3c2d","c":0.16,"x":1452,"y":2127},{"id":"r3c2d","c":0.16,"x":1460,"y":2153},{"id":"r3c2d","c":0.16,"x":1467,"y":2173},{"id":"r3c2d","c":0.16,"x":1467,"y":2195},{"id":"r3c2d","c":0.16,"x":1385,"y":2195},
{"id":"r3c2e","c":0.2,"x":1393,"y":2137},{"id":"r3c2e","c":0.2,"x":1420,"y":2087},{"id":"r3c2e","c":0.2,"x":1447,"y":2057},{"id":"r3c2e","c":0.2,"x":1470,"y":2040},{"id":"r3c2e","c":0.2,"x":1482,"y":2045},{"id":"r3c2e","c":0.2,"x":1483,"y":2060},{"id":"r3c2e","c":0.2,"x":1470,"y":2080},{"id":"r3c2e","c":0.2,"x":1453,"y":2107},{"id":"r3c2e","c":0.2,"x":1448,"y":2127},{"id":"r3c2e","c":0.2,"x":1457,"y":2150},{"id":"r3c2e","c":0.2,"x":1467,"y":2177},{"id":"r3c2e","c":0.2,"x":1467,"y":2195},{"id":"r3c2e","c":0.2,"x":1385,"y":2195},
{"id":"r3c2f","c":0.28,"x":1387,"y":2140},{"id":"r3c2f","c":0.28,"x":1400,"y":2130},{"id":"r3c2f","c":0.28,"x":1423,"y":2090},{"id":"r3c2f","c":0.28,"x":1447,"y":2063},{"id":"r3c2f","c":0.28,"x":1468,"y":2058},{"id":"r3c2f","c":0.28,"x":1468,"y":2073},{"id":"r3c2f","c":0.28,"x":1453,"y":2097},{"id":"r3c2f","c":0.28,"x":1445,"y":2123},{"id":"r3c2f","c":0.28,"x":1453,"y":2150},{"id":"r3c2f","c":0.28,"x":1465,"y":2180},{"id":"r3c2f","c":0.28,"x":1465,"y":2195},{"id":"r3c2f","c":0.28,"x":1385,"y":2195},
{"id":"r3c2g","c":0.36,"x":1386,"y":2150},{"id":"r3c2g","c":0.36,"x":1403,"y":2127},{"id":"r3c2g","c":0.36,"x":1427,"y":2097},{"id":"r3c2g","c":0.36,"x":1447,"y":2083},{"id":"r3c2g","c":0.36,"x":1452,"y":2100},{"id":"r3c2g","c":0.36,"x":1445,"y":2123},{"id":"r3c2g","c":0.36,"x":1450,"y":2147},{"id":"r3c2g","c":0.36,"x":1462,"y":2177},{"id":"r3c2g","c":0.36,"x":1465,"y":2195},{"id":"r3c2g","c":0.36,"x":1385,"y":2195},
{"id":"r3c2h","c":0.44,"x":1386,"y":2160},{"id":"r3c2h","c":0.44,"x":1410,"y":2157},{"id":"r3c2h","c":0.44,"x":1425,"y":2133},{"id":"r3c2h","c":0.44,"x":1433,"y":2120},{"id":"r3c2h","c":0.44,"x":1438,"y":2137},{"id":"r3c2h","c":0.44,"x":1442,"y":2160},{"id":"r3c2h","c":0.44,"x":1463,"y":2180},{"id":"r3c2h","c":0.44,"x":1465,"y":2195},{"id":"r3c2h","c":0.44,"x":1385,"y":2195},
{"id":"r3c2i","c":0.52,"x":1386,"y":2162},{"id":"r3c2i","c":0.52,"x":1407,"y":2167},{"id":"r3c2i","c":0.52,"x":1420,"y":2157},{"id":"r3c2i","c":0.52,"x":1428,"y":2143},{"id":"r3c2i","c":0.52,"x":1435,"y":2160},{"id":"r3c2i","c":0.52,"x":1453,"y":2167},{"id":"r3c2i","c":0.52,"x":1464,"y":2183},{"id":"r3c2i","c":0.52,"x":1465,"y":2195},{"id":"r3c2i","c":0.52,"x":1385,"y":2195},
{"id":"r3c2j","c":0.64,"x":1386,"y":2163},{"id":"r3c2j","c":0.64,"x":1400,"y":2168},{"id":"r3c2j","c":0.64,"x":1410,"y":2177},{"id":"r3c2j","c":0.64,"x":1427,"y":2168},{"id":"r3c2j","c":0.64,"x":1443,"y":2173},{"id":"r3c2j","c":0.64,"x":1460,"y":2175},{"id":"r3c2j","c":0.64,"x":1465,"y":2190},{"id":"r3c2j","c":0.64,"x":1465,"y":2195},{"id":"r3c2j","c":0.64,"x":1385,"y":2195},
{"id":"r3c2k","c":0.75,"x":1386,"y":2162},{"id":"r3c2k","c":0.75,"x":1398,"y":2167},{"id":"r3c2k","c":0.75,"x":1407,"y":2180},{"id":"r3c2k","c":0.75,"x":1423,"y":2185},{"id":"r3c2k","c":0.75,"x":1443,"y":2182},{"id":"r3c2k","c":0.75,"x":1458,"y":2182},{"id":"r3c2k","c":0.75,"x":1463,"y":2193},{"id":"r3c2k","c":0.75,"x":1385,"y":2195},

{"id":"r3c3a","c":0.04,"x":2492,"y":2135},{"id":"r3c3a","c":0.04,"x":2477,"y":2113},{"id":"r3c3a","c":0.04,"x":2473,"y":2090},{"id":"r3c3a","c":0.04,"x":2483,"y":2047},{"id":"r3c3a","c":0.04,"x":2507,"y":2000},{"id":"r3c3a","c":0.04,"x":2537,"y":1957},{"id":"r3c3a","c":0.04,"x":2573,"y":1920},{"id":"r3c3a","c":0.04,"x":2607,"y":1903},{"id":"r3c3a","c":0.04,"x":2633,"y":1900},{"id":"r3c3a","c":0.04,"x":2663,"y":1910},{"id":"r3c3a","c":0.04,"x":2690,"y":1930},{"id":"r3c3a","c":0.04,"x":2699,"y":1953},{"id":"r3c3a","c":0.04,"x":2690,"y":1973},{"id":"r3c3a","c":0.04,"x":2667,"y":1993},{"id":"r3c3a","c":0.04,"x":2633,"y":2013},{"id":"r3c3a","c":0.04,"x":2607,"y":2030},{"id":"r3c3a","c":0.04,"x":2587,"y":2050},{"id":"r3c3a","c":0.04,"x":2573,"y":2077},{"id":"r3c3a","c":0.04,"x":2560,"y":2157},{"id":"r3c3a","c":0.04,"x":2555,"y":2192},{"id":"r3c3a","c":0.04,"x":2494,"y":2192},
{"id":"r3c3b","c":0.08,"x":2493,"y":2133},{"id":"r3c3b","c":0.08,"x":2483,"y":2097},{"id":"r3c3b","c":0.08,"x":2493,"y":2050},{"id":"r3c3b","c":0.08,"x":2517,"y":2003},{"id":"r3c3b","c":0.08,"x":2547,"y":1963},{"id":"r3c3b","c":0.08,"x":2580,"y":1937},{"id":"r3c3b","c":0.08,"x":2613,"y":1930},{"id":"r3c3b","c":0.08,"x":2643,"y":1940},{"id":"r3c3b","c":0.08,"x":2658,"y":1963},{"id":"r3c3b","c":0.08,"x":2650,"y":1983},{"id":"r3c3b","c":0.08,"x":2623,"y":2005},{"id":"r3c3b","c":0.08,"x":2597,"y":2027},{"id":"r3c3b","c":0.08,"x":2577,"y":2053},{"id":"r3c3b","c":0.08,"x":2563,"y":2090},{"id":"r3c3b","c":0.08,"x":2557,"y":2140},{"id":"r3c3b","c":0.08,"x":2552,"y":2192},{"id":"r3c3b","c":0.08,"x":2494,"y":2192},
{"id":"r3c3c","c":0.12,"x":2493,"y":2123},{"id":"r3c3c","c":0.12,"x":2490,"y":2090},{"id":"r3c3c","c":0.12,"x":2503,"y":2043},{"id":"r3c3c","c":0.12,"x":2530,"y":2000},{"id":"r3c3c","c":0.12,"x":2563,"y":1967},{"id":"r3c3c","c":0.12,"x":2597,"y":1955},{"id":"r3c3c","c":0.12,"x":2620,"y":1958},{"id":"r3c3c","c":0.12,"x":2627,"y":1975},{"id":"r3c3c","c":0.12,"x":2617,"y":1997},{"id":"r3c3c","c":0.12,"x":2593,"y":2023},{"id":"r3c3c","c":0.12,"x":2573,"y":2050},{"id":"r3c3c","c":0.12,"x":2560,"y":2090},{"id":"r3c3c","c":0.12,"x":2553,"y":2143},{"id":"r3c3c","c":0.12,"x":2550,"y":2192},{"id":"r3c3c","c":0.12,"x":2494,"y":2192},
{"id":"r3c3d","c":0.16,"x":2492,"y":2117},{"id":"r3c3d","c":0.16,"x":2497,"y":2077},{"id":"r3c3d","c":0.16,"x":2513,"y":2037},{"id":"r3c3d","c":0.16,"x":2543,"y":2000},{"id":"r3c3d","c":0.16,"x":2577,"y":1983},{"id":"r3c3d","c":0.16,"x":2595,"y":1987},{"id":"r3c3d","c":0.16,"x":2598,"y":2003},{"id":"r3c3d","c":0.16,"x":2587,"y":2027},{"id":"r3c3d","c":0.16,"x":2570,"y":2053},{"id":"r3c3d","c":0.16,"x":2557,"y":2090},{"id":"r3c3d","c":0.16,"x":2550,"y":2143},{"id":"r3c3d","c":0.16,"x":2548,"y":2192},{"id":"r3c3d","c":0.16,"x":2494,"y":2192},
{"id":"r3c3e","c":0.2,"x":2493,"y":2110},{"id":"r3c3e","c":0.2,"x":2500,"y":2070},{"id":"r3c3e","c":0.2,"x":2520,"y":2040},{"id":"r3c3e","c":0.2,"x":2547,"y":2022},{"id":"r3c3e","c":0.2,"x":2567,"y":2017},{"id":"r3c3e","c":0.2,"x":2570,"y":2027},{"id":"r3c3e","c":0.2,"x":2560,"y":2053},{"id":"r3c3e","c":0.2,"x":2550,"y":2090},{"id":"r3c3e","c":0.2,"x":2548,"y":2143},{"id":"r3c3e","c":0.2,"x":2547,"y":2192},{"id":"r3c3e","c":0.2,"x":2494,"y":2192},
{"id":"r3c3f","c":0.24,"x":2495,"y":2107},{"id":"r3c3f","c":0.24,"x":2503,"y":2070},{"id":"r3c3f","c":0.24,"x":2523,"y":2047},{"id":"r3c3f","c":0.24,"x":2545,"y":2043},{"id":"r3c3f","c":0.24,"x":2552,"y":2057},{"id":"r3c3f","c":0.24,"x":2548,"y":2090},{"id":"r3c3f","c":0.24,"x":2545,"y":2130},{"id":"r3c3f","c":0.24,"x":2545,"y":2167},{"id":"r3c3f","c":0.24,"x":2552,"y":2192},{"id":"r3c3f","c":0.24,"x":2494,"y":2192},
{"id":"r3c3g","c":0.28,"x":2495,"y":2110},{"id":"r3c3g","c":0.28,"x":2507,"y":2077},{"id":"r3c3g","c":0.28,"x":2525,"y":2063},{"id":"r3c3g","c":0.28,"x":2535,"y":2080},{"id":"r3c3g","c":0.28,"x":2543,"y":2107},{"id":"r3c3g","c":0.28,"x":2543,"y":2143},{"id":"r3c3g","c":0.28,"x":2545,"y":2170},{"id":"r3c3g","c":0.28,"x":2552,"y":2192},{"id":"r3c3g","c":0.28,"x":2494,"y":2192},
{"id":"r3c3h","c":0.36,"x":2495,"y":2123},{"id":"r3c3h","c":0.36,"x":2510,"y":2097},{"id":"r3c3h","c":0.36,"x":2523,"y":2117},{"id":"r3c3h","c":0.36,"x":2542,"y":2140},{"id":"r3c3h","c":0.36,"x":2543,"y":2163},{"id":"r3c3h","c":0.36,"x":2550,"y":2183},{"id":"r3c3h","c":0.36,"x":2552,"y":2192},{"id":"r3c3h","c":0.36,"x":2494,"y":2192},
{"id":"r3c3i","c":0.52,"x":2494,"y":2153},{"id":"r3c3i","c":0.52,"x":2505,"y":2157},{"id":"r3c3i","c":0.52,"x":2520,"y":2150},{"id":"r3c3i","c":0.52,"x":2533,"y":2153},{"id":"r3c3i","c":0.52,"x":2542,"y":2167},{"id":"r3c3i","c":0.52,"x":2550,"y":2183},{"id":"r3c3i","c":0.52,"x":2494,"y":2192},
{"id":"r3c3j","c":0.6,"x":2494,"y":2158},{"id":"r3c3j","c":0.6,"x":2513,"y":2163},{"id":"r3c3j","c":0.6,"x":2533,"y":2173},{"id":"r3c3j","c":0.6,"x":2548,"y":2187},{"id":"r3c3j","c":0.6,"x":2550,"y":2192},{"id":"r3c3j","c":0.6,"x":2494,"y":2192},
{"id":"r3c3k","c":0.72,"x":2494,"y":2162},{"id":"r3c3k","c":0.72,"x":2510,"y":2168},{"id":"r3c3k","c":0.72,"x":2530,"y":2177},{"id":"r3c3k","c":0.72,"x":2545,"y":2187},{"id":"r3c3k","c":0.72,"x":2548,"y":2192},{"id":"r3c3k","c":0.72,"x":2494,"y":2192},
{"id":"r3c3l","c":0.75,"x":2494,"y":2165},{"id":"r3c3l","c":0.75,"x":2510,"y":2177},{"id":"r3c3l","c":0.75,"x":2533,"y":2183},{"id":"r3c3l","c":0.75,"x":2548,"y":2192},{"id":"r3c3l","c":0.75,"x":2494,"y":2192},

{"id":"r4c1a","c":0.04,"x":365,"y":2787},{"id":"r4c1a","c":0.04,"x":369,"y":2743},{"id":"r4c1a","c":0.04,"x":386,"y":2697},{"id":"r4c1a","c":0.04,"x":419,"y":2657},{"id":"r4c1a","c":0.04,"x":467,"y":2623},{"id":"r4c1a","c":0.04,"x":519,"y":2600},{"id":"r4c1a","c":0.04,"x":593,"y":2585},{"id":"r4c1a","c":0.04,"x":697,"y":2575},{"id":"r4c1a","c":0.04,"x":759,"y":2582},{"id":"r4c1a","c":0.04,"x":800,"y":2600},{"id":"r4c1a","c":0.04,"x":820,"y":2627},{"id":"r4c1a","c":0.04,"x":808,"y":2653},{"id":"r4c1a","c":0.04,"x":759,"y":2680},{"id":"r4c1a","c":0.04,"x":667,"y":2707},{"id":"r4c1a","c":0.04,"x":556,"y":2722},{"id":"r4c1a","c":0.04,"x":482,"y":2733},{"id":"r4c1a","c":0.04,"x":438,"y":2757},{"id":"r4c1a","c":0.04,"x":404,"y":2787},{"id":"r4c1a","c":0.04,"x":382,"y":2798},{"id":"r4c1a","c":0.04,"x":367,"y":2793},
{"id":"r4c1b","c":0.08,"x":412,"y":2733},{"id":"r4c1b","c":0.08,"x":423,"y":2703},{"id":"r4c1b","c":0.08,"x":452,"y":2673},{"id":"r4c1b","c":0.08,"x":489,"y":2657},{"id":"r4c1b","c":0.08,"x":519,"y":2652},{"id":"r4c1b","c":0.08,"x":547,"y":2660},{"id":"r4c1b","c":0.08,"x":537,"y":2677},{"id":"r4c1b","c":0.08,"x":500,"y":2700},{"id":"r4c1b","c":0.08,"x":445,"y":2733},{"id":"r4c1b","c":0.08,"x":423,"y":2742},{"id":"r4c1b","c":0.08,"x":412,"y":2738},
{"id":"r4c1c","c":0.04,"x":275,"y":2818},{"id":"r4c1c","c":0.04,"x":293,"y":2817},{"id":"r4c1c","c":0.04,"x":308,"y":2827},{"id":"r4c1c","c":0.04,"x":290,"y":2843},{"id":"r4c1c","c":0.04,"x":282,"y":2873},{"id":"r4c1c","c":0.04,"x":275,"y":2875},

{"id":"r4c2a","c":0.04,"x":1385,"y":2815},{"id":"r4c2a","c":0.04,"x":1400,"y":2808},{"id":"r4c2a","c":0.04,"x":1417,"y":2787},{"id":"r4c2a","c":0.04,"x":1422,"y":2753},{"id":"r4c2a","c":0.04,"x":1425,"y":2710},{"id":"r4c2a","c":0.04,"x":1443,"y":2653},{"id":"r4c2a","c":0.04,"x":1477,"y":2610},{"id":"r4c2a","c":0.04,"x":1513,"y":2573},{"id":"r4c2a","c":0.04,"x":1553,"y":2550},{"id":"r4c2a","c":0.04,"x":1613,"y":2533},{"id":"r4c2a","c":0.04,"x":1680,"y":2522},{"id":"r4c2a","c":0.04,"x":1730,"y":2517},{"id":"r4c2a","c":0.04,"x":1770,"y":2527},{"id":"r4c2a","c":0.04,"x":1793,"y":2553},{"id":"r4c2a","c":0.04,"x":1788,"y":2583},{"id":"r4c2a","c":0.04,"x":1760,"y":2610},{"id":"r4c2a","c":0.04,"x":1723,"y":2632},{"id":"r4c2a","c":0.04,"x":1647,"y":2637},{"id":"r4c2a","c":0.04,"x":1607,"y":2647},{"id":"r4c2a","c":0.04,"x":1567,"y":2670},{"id":"r4c2a","c":0.04,"x":1527,"y":2710},{"id":"r4c2a","c":0.04,"x":1480,"y":2767},{"id":"r4c2a","c":0.04,"x":1433,"y":2800},{"id":"r4c2a","c":0.04,"x":1410,"y":2823},{"id":"r4c2a","c":0.04,"x":1393,"y":2830},{"id":"r4c2a","c":0.04,"x":1393,"y":2840},{"id":"r4c2a","c":0.04,"x":1385,"y":2843},
{"id":"r4c2b","c":0.08,"x":1452,"y":2717},{"id":"r4c2b","c":0.08,"x":1460,"y":2680},{"id":"r4c2b","c":0.08,"x":1487,"y":2637},{"id":"r4c2b","c":0.08,"x":1520,"y":2603},{"id":"r4c2b","c":0.08,"x":1553,"y":2593},{"id":"r4c2b","c":0.08,"x":1580,"y":2603},{"id":"r4c2b","c":0.08,"x":1577,"y":2620},{"id":"r4c2b","c":0.08,"x":1540,"y":2667},{"id":"r4c2b","c":0.08,"x":1497,"y":2717},{"id":"r4c2b","c":0.08,"x":1470,"y":2737},{"id":"r4c2b","c":0.08,"x":1458,"y":2739},{"id":"r4c2b","c":0.08,"x":1452,"y":2730},
{"id":"r4c2c","c":0.04,"x":1385,"y":2843},{"id":"r4c2c","c":0.04,"x":1393,"y":2843},{"id":"r4c2c","c":0.04,"x":1417,"y":2872},{"id":"r4c2c","c":0.04,"x":1385,"y":2872},
{"id":"r4c2d","c":0.12,"x":1385,"y":2853},{"id":"r4c2d","c":0.12,"x":1390,"y":2855},{"id":"r4c2d","c":0.12,"x":1410,"y":2872},{"id":"r4c2d","c":0.12,"x":1385,"y":2872},
{"id":"r4c2e","c":0.2,"x":1385,"y":2862},{"id":"r4c2e","c":0.2,"x":1400,"y":2872},{"id":"r4c2e","c":0.2,"x":1385,"y":2872},

{"id":"r4c3a","c":0.04,"x":2495,"y":2808},{"id":"r4c3a","c":0.04,"x":2510,"y":2777},{"id":"r4c3a","c":0.04,"x":2523,"y":2737},{"id":"r4c3a","c":0.04,"x":2533,"y":2683},{"id":"r4c3a","c":0.04,"x":2557,"y":2620},{"id":"r4c3a","c":0.04,"x":2600,"y":2550},{"id":"r4c3a","c":0.04,"x":2650,"y":2503},{"id":"r4c3a","c":0.04,"x":2697,"y":2483},{"id":"r4c3a","c":0.04,"x":2763,"y":2475},{"id":"r4c3a","c":0.04,"x":2823,"y":2480},{"id":"r4c3a","c":0.04,"x":2870,"y":2497},{"id":"r4c3a","c":0.04,"x":2885,"y":2522},{"id":"r4c3a","c":0.04,"x":2877,"y":2540},{"id":"r4c3a","c":0.04,"x":2837,"y":2558},{"id":"r4c3a","c":0.04,"x":2777,"y":2573},{"id":"r4c3a","c":0.04,"x":2723,"y":2600},{"id":"r4c3a","c":0.04,"x":2663,"y":2647},{"id":"r4c3a","c":0.04,"x":2587,"y":2720},{"id":"r4c3a","c":0.04,"x":2557,"y":2790},{"id":"r4c3a","c":0.04,"x":2537,"y":2840},{"id":"r4c3a","c":0.04,"x":2518,"y":2865},{"id":"r4c3a","c":0.04,"x":2495,"y":2867},
{"id":"r4c3b","c":0.08,"x":2495,"y":2807},{"id":"r4c3b","c":0.08,"x":2520,"y":2783},{"id":"r4c3b","c":0.08,"x":2537,"y":2753},{"id":"r4c3b","c":0.08,"x":2550,"y":2703},{"id":"r4c3b","c":0.08,"x":2570,"y":2647},{"id":"r4c3b","c":0.08,"x":2607,"y":2587},{"id":"r4c3b","c":0.08,"x":2647,"y":2557},{"id":"r4c3b","c":0.08,"x":2670,"y":2552},{"id":"r4c3b","c":0.08,"x":2685,"y":2562},{"id":"r4c3b","c":0.08,"x":2677,"y":2597},{"id":"r4c3b","c":0.08,"x":2650,"y":2640},{"id":"r4c3b","c":0.08,"x":2590,"y":2710},{"id":"r4c3b","c":0.08,"x":2547,"y":2773},{"id":"r4c3b","c":0.08,"x":2520,"y":2830},{"id":"r4c3b","c":0.08,"x":2510,"y":2867},{"id":"r4c3b","c":0.08,"x":2495,"y":2867},
{"id":"r4c3c","c":0.12,"x":2494,"y":2810},{"id":"r4c3c","c":0.12,"x":2503,"y":2810},{"id":"r4c3c","c":0.12,"x":2502,"y":2837},{"id":"r4c3c","c":0.12,"x":2508,"y":2867},{"id":"r4c3c","c":0.12,"x":2494,"y":2867},
{"id":"r4c3d","c":0.2,"x":2494,"y":2837},{"id":"r4c3d","c":0.2,"x":2499,"y":2853},{"id":"r4c3d","c":0.2,"x":2502,"y":2867},{"id":"r4c3d","c":0.2,"x":2494,"y":2867}
]
},
"encoding":{
"x":{"field":"x","type":"quantitative","scale":{"domain":[0,3338],"nice":false,"zero":false},"axis":null},
"y":{"field":"y","type":"quantitative","scale":{"domain":[3018,0],"nice":false,"zero":false},"axis":null}
},
"layer":[
{"data":{"name":"panels"},"mark":{"type":"rect","fill":"#0000ff"},"encoding":{"x2":{"field":"x2"},"y2":{"field":"y2"}}},
{"data":{"name":"contours"},
"mark":{"type":"line","interpolate":"cardinal-closed","stroke":null,"strokeWidth":0},
"encoding":{
"detail":{"field":"id"},
"order":{"value":null},
"fill":{"field":"c","type":"ordinal","legend":null,"scale":{
"domain":[0,0.04,0.08,0.12,0.16,0.2,0.24,0.28,0.32,0.36,0.4,0.44,0.48,0.52,0.56,0.6,0.64,0.68,0.72,0.75],
"range":["#0000ff","#0040ff","#006aff","#009fff","#00d4ff","#00ffff","#00ffbb","#00ff80","#00ff45","#00ff00","#1aff00","#55ff00","#8aff00","#bfff00","#f0ff00","#ffd500","#ffa000","#ff6a00","#ff3500","#ff0000"]}}}},
{"data":{"name":"walls"},"mark":{"type":"rect","fill":"white"},"encoding":{"x2":{"field":"x2"},"y2":{"field":"y2"}}},
{"data":{"name":"colorbar"},"mark":{"type":"rect","stroke":"#1a1a1a","strokeWidth":2},
"encoding":{"x2":{"field":"x2"},"y2":{"field":"y2"},
"fill":{"field":"c","type":"ordinal","legend":null,"scale":{
"domain":[0,0.04,0.08,0.12,0.16,0.2,0.24,0.28,0.32,0.36,0.4,0.44,0.48,0.52,0.56,0.6,0.64,0.68,0.72,0.75],
"range":["#0000ff","#0040ff","#006aff","#009fff","#00d4ff","#00ffff","#00ffbb","#00ff80","#00ff45","#00ff00","#1aff00","#55ff00","#8aff00","#bfff00","#f0ff00","#ffd500","#ffa000","#ff6a00","#ff3500","#ff0000"]}}}},
{"data":{"name":"ticks"},"mark":{"type":"text","font":"Liberation Serif","fontSize":65,"align":"center","baseline":"alphabetic","color":"#111111"},"encoding":{"text":{"field":"label"}}},
{"data":{"name":"titles"},"mark":{"type":"text","font":"Liberation Serif","fontSize":75,"align":"center","baseline":"alphabetic","color":"#111111"},"encoding":{"text":{"field":"label"}}},
{"data":{"name":"times"},"mark":{"type":"text","font":"Liberation Serif","fontWeight":"bold","fontSize":92,"align":"center","baseline":"alphabetic","color":"white"},"encoding":{"text":{"field":"label"}}},
{"data":{"name":"heights"},"mark":{"type":"text","font":"Liberation Serif","fontWeight":"bold","fontSize":81,"align":"center","baseline":"alphabetic","color":"#111111"},"encoding":{"text":{"field":"label"}}}
]
}
